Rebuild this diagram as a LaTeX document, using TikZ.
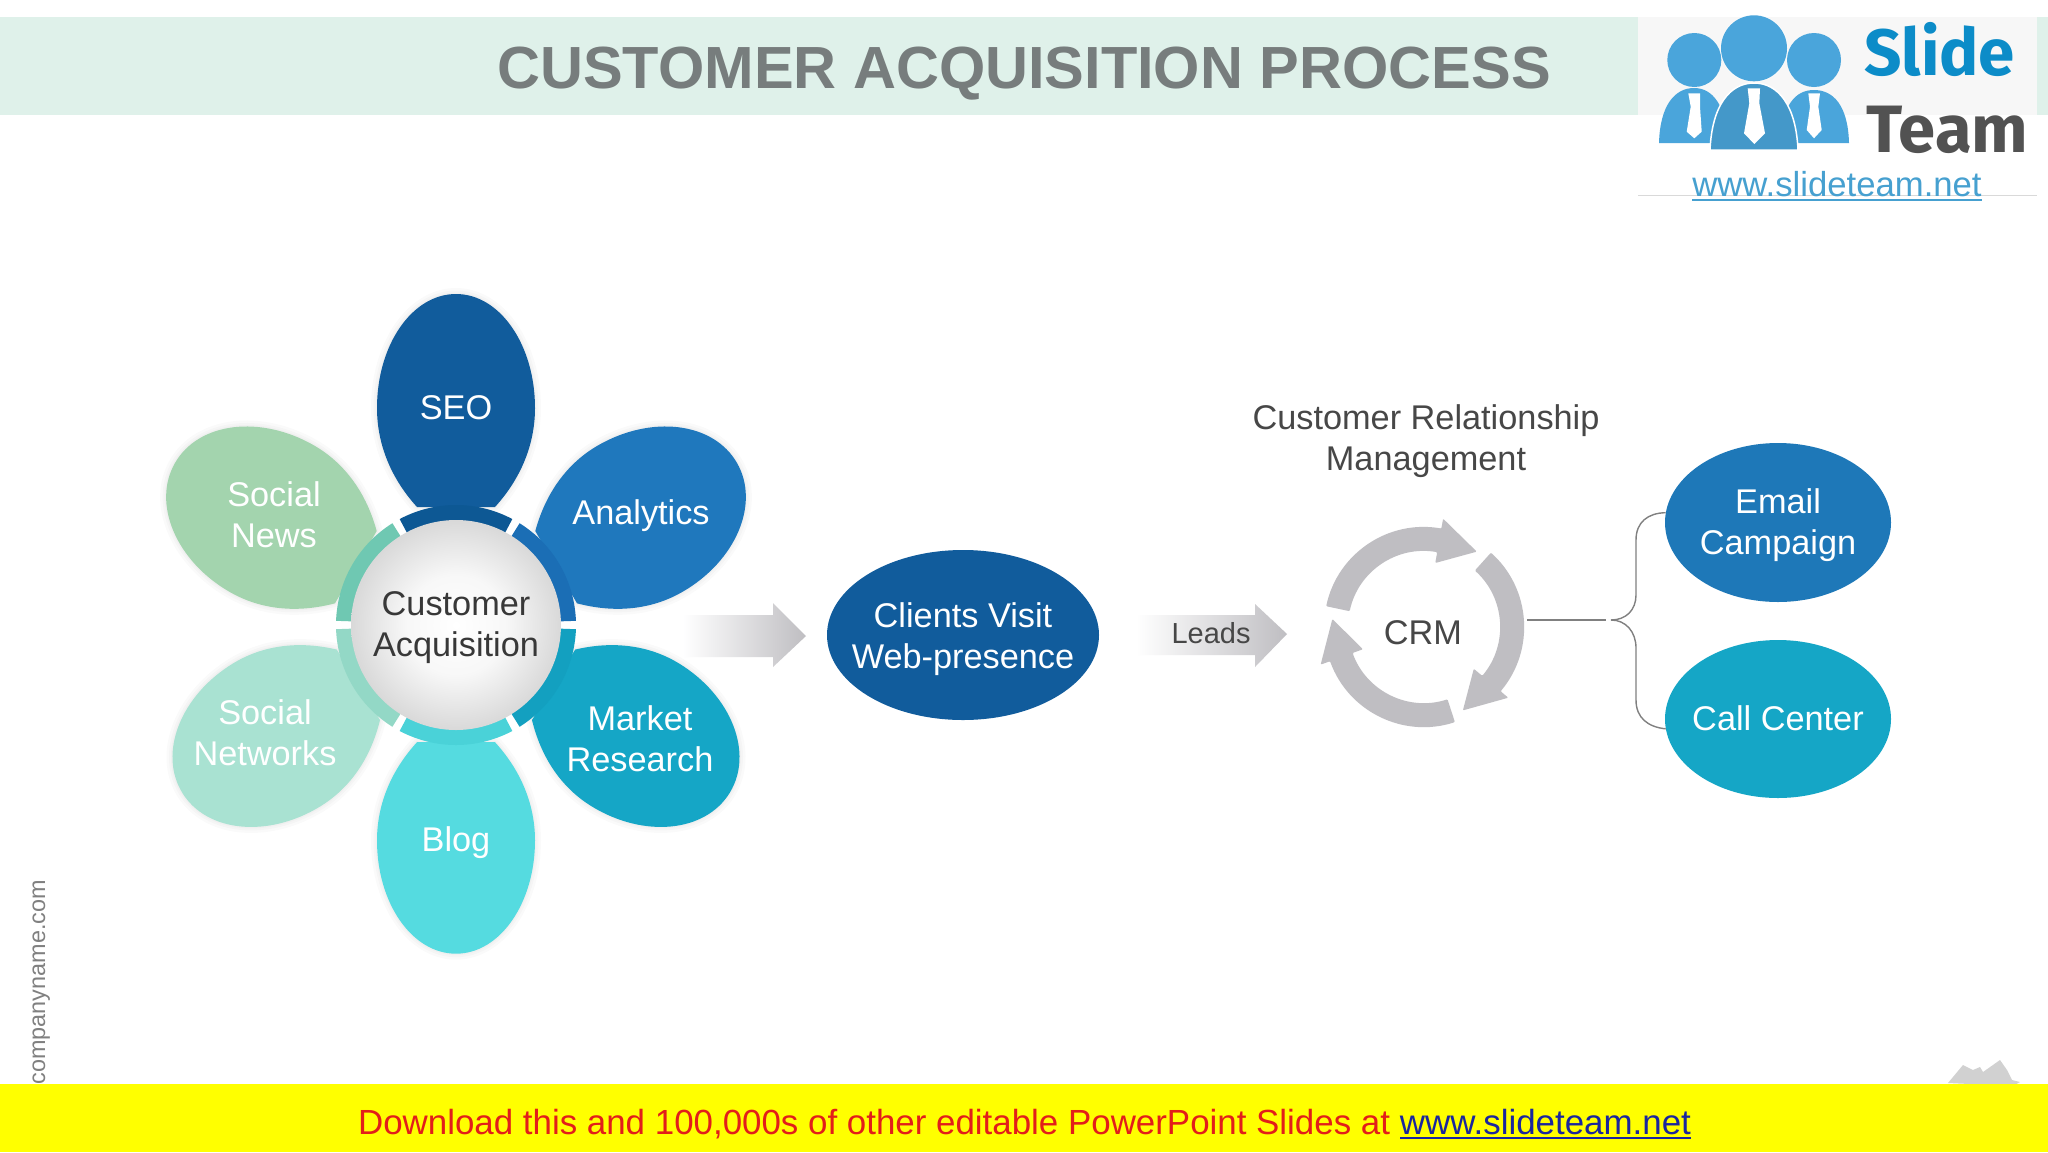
\documentclass[tikz,border=0pt]{standalone}
\usepackage{fontspec}
\setmainfont{Liberation Sans}
\newfontfamily\logofont{Fira Sans}[BoldFont={Fira Sans Bold}]
\usetikzlibrary{shapes.geometric}
\definecolor{band}{HTML}{DFF1EA}
\definecolor{titlegrey}{HTML}{777D7D}
\definecolor{arrowgrey}{HTML}{BFBEC2}
\definecolor{seoC}{HTML}{115C9C}
\definecolor{anaC}{HTML}{1F78BD}
\definecolor{mktC}{HTML}{15A6C6}
\definecolor{blogC}{HTML}{55DBE0}
\definecolor{netC}{HTML}{A9E2D2}
\definecolor{newsC}{HTML}{A3D4AE}
\definecolor{seoR}{HTML}{0D5894}
\definecolor{anaR}{HTML}{1B6EB5}
\definecolor{mktR}{HTML}{13A0C0}
\definecolor{blogR}{HTML}{4AD2D8}
\definecolor{netR}{HTML}{93D8C6}
\definecolor{newsR}{HTML}{6FC8B2}
\definecolor{logoblue}{HTML}{4AA5DB}
\definecolor{slideC}{HTML}{0C8CC8}
\definecolor{urlC}{HTML}{46A0D0}
\definecolor{emailC}{HTML}{1E78B8}
\definecolor{footC}{HTML}{E21E1A}
\definecolor{linkC}{HTML}{1A269E}
\definecolor{banner}{HTML}{FFFF00}
\pgfdeclareradialshading{hubshade}{\pgfpoint{0bp}{0bp}}{color(0bp)=(white); color(12bp)=(black!3); color(25bp)=(black!15); color(50bp)=(black!15)}
\newcommand{\petalshape}{(118,-39) .. controls (150,-68) and (185,-79) .. (217,-79) .. controls (280,-79) and (331,-44) .. (331,0) .. controls (331,44) and (280,79) .. (217,79) .. controls (185,79) and (150,68) .. (118,39) -- cycle}
% #1 rotation, #2 colour, #3 length factor, #4 width factor
\newcommand{\flowerpetal}[4]{%
  \begin{scope}[shift={(456,625)},y=1pt,rotate=#1,xscale=#3,yscale=#4]
    \foreach \w in {12,7,3} {\draw[black,opacity=.02,line width=\w pt,line join=round] \petalshape;}
    \fill[#2] \petalshape;
  \end{scope}
}
\newcommand{\flowerring}[2]{%
  \begin{scope}[shift={(456,625)},y=1pt,rotate=#1]
    \fill[#2] (-28:104) arc (-28:28:104) -- (28:120) arc (28:-28:120) -- cycle;
  \end{scope}
}
\newcommand{\cyclearrow}[1]{%
  \begin{scope}[shift={(1424,627)},y=1pt,rotate=#1]
    \fill[arrowgrey,rounded corners=1pt] (168:100) arc (168:80:100) -- (80:110) -- (55:92) -- (80:65) -- (80:76) arc (80:168:76) -- cycle;
  \end{scope}
}
\tikzset{
  lbl/.style={align=center,font=\fontsize{34.3}{41}\selectfont,text=white,inner sep=0pt},
  dark/.style={lbl,text=#1},
  oval/.style={ellipse,minimum width=#1,inner sep=0pt},
  fade/.style={left color=white,right color=arrowgrey,draw=none},
  brace/.style={draw=black!50,line width=1.4pt},
}
\begin{document}
\begin{tikzpicture}[x=1pt,y=-1pt]
\useasboundingbox (0,0) rectangle (2048,1152);
\fill[white] (0,0) rectangle (2048,1152);
% title band and logo backdrop
\fill[band] (0,17) rectangle (2048,115);
\fill[white] (1638,0) rectangle (2037,196);
\fill[black!3] (1638,17) rectangle (2037,115);
\draw[black!15,line width=1pt] (1638,195.5) -- (2037,195.5);
\node[inner sep=0pt,font=\fontsize{59.5}{60}\selectfont\bfseries,text=titlegrey] (title) at (1024,74) {CUSTOMER ACQUISITION PROCESS};
% logo
\fill[logoblue] (1694.3,60) circle (27);
\fill[logoblue] (1814,60) circle (27);
\fill[logoblue] (1659,143) .. controls (1660,105) and (1675,88) .. (1694,88) .. controls (1713,88) and (1725,105) .. (1730,143) -- cycle;
\fill[logoblue] (1778,143) .. controls (1783,105) and (1795,90) .. (1814,90) .. controls (1833,90) and (1848,105) .. (1849,143) -- cycle;
\fill[white,opacity=.35] (1754,48.3) circle (34);
\fill[logoblue] (1754,48.3) circle (33);
\draw[white,line width=1.5pt,fill=logoblue!92!black] (1710,150) .. controls (1712,105) and (1730,83) .. (1754,83) .. controls (1778,83) and (1796,105) .. (1798,150) -- cycle;
\fill[white] (1688.3,93.3) -- (1700,93.3) -- (1700,106.7) -- (1701.7,131.7) -- (1694.3,138.3) -- (1686.7,131.7) -- (1690.7,106.7) -- cycle;
\fill[white] (1747.7,88.3) -- (1760,88.3) -- (1759.3,103.3) -- (1765,133.3) -- (1754.3,144) -- (1744,133.3) -- (1749.3,103.3) -- cycle;
\fill[white] (1808.3,93.3) -- (1820,93.3) -- (1818.3,106.7) -- (1821.7,130) -- (1814,138.3) -- (1806.7,130) -- (1810,106.7) -- cycle;
\node[anchor=base west,inner sep=0pt,font=\logofont\bfseries\fontsize{65.5}{66}\selectfont,text=slideC] (slide) at (1864,75) {Slide};
\node[anchor=base west,inner sep=0pt,font=\logofont\bfseries\fontsize{67}{67}\selectfont,text=black!68] (team) at (1866,152) {Team};
\node[anchor=base,inner sep=0pt,font=\fontsize{34.7}{36}\selectfont,text=urlC] (url) at (1837,196) {www.slideteam.net};
\draw[urlC,line width=2.4pt] (1692,200) -- (1982,200);
% flower
\flowerpetal{90}{seoC}{1}{1}
\flowerpetal{30}{anaC}{.98}{1.07}
\flowerpetal{-31.5}{mktC}{.97}{1.06}
\flowerpetal{-90}{blogC}{.993}{1}
\flowerpetal{-148.5}{netC}{.97}{1.06}
\flowerpetal{150}{newsC}{.98}{1.07}
\flowerring{90}{seoR}
\flowerring{30}{anaR}
\flowerring{-30}{mktR}
\flowerring{-90}{blogR}
\flowerring{-150}{netR}
\flowerring{150}{newsR}
\shade[shading=hubshade] (456,625) circle (105);
\node[lbl] (seo) at (456,408) {SEO};
\node[lbl] (ana) at (641,516) {Analytics};
\node[lbl] (mkt) at (640,739) {Market\\Research};
\node[lbl] (blog) at (456,843) {Blog};
\node[lbl] (net) at (265,733) {Social\\Networks};
\node[lbl] (news) at (274,515) {Social\\News};
\node[dark=black!78] (hub) at (456,628) {Customer\\Acquisition};
% flow
\shade[fade] (683,615) -- (773,615) -- (773,603) -- (806,636) -- (773,667) -- (773,657) -- (683,657) -- cycle;
\node[oval=272pt,fill=seoC,minimum height=170pt] (clients) at (963,635) {};
\node[lbl] (clientst) at (963,639) {Clients Visit\\Web-presence};
\shade[fade] (1136,615) -- (1255,615) -- (1255,604) -- (1287,634) -- (1255,667) -- (1255,655) -- (1136,655) -- cycle;
\node[dark=black!72,font=\fontsize{29}{34}\selectfont] (leads) at (1211,633) {Leads};
% CRM
\cyclearrow{0}
\cyclearrow{-120}
\cyclearrow{-240}
\node[dark=black!72] (crm) at (1423,633) {CRM};
\node[dark=black!72] (crmt) at (1426,441) {Customer Relationship\\Management};
% outputs
\node[oval=226pt,fill=emailC,minimum height=159pt] (email) at (1778,522.5) {};
\node[oval=226pt,fill=mktC,minimum height=158pt] (call) at (1778,719) {};
\node[lbl] (emailt) at (1778,525) {Email\\Campaign};
\node[lbl] (callt) at (1778,718) {Call Center};
\coordinate (crmout) at (1527,620);
\coordinate (braceline) at (1606,620);
\coordinate (bracetip) at (1611,620);
\draw[brace] (crmout) -- (braceline);
\draw[brace] (bracetip) .. controls (1626,620) and (1636,610) .. (1636,595) -- (1636,540) .. controls (1636,522) and (1648,513) .. (email.175);
\draw[brace] (bracetip) .. controls (1626,620) and (1636,632) .. (1636,648) -- (1636,700) .. controls (1636,718) and (1648,727) .. (call.185);
% side text and watermark
\node[rotate=90,anchor=base east,inner sep=0pt,font=\fontsize{23.4}{24}\selectfont,text=black!50] (web) at (45,880) {www.companyname.com};
\fill[black!18] (1948,1083) -- (1963,1065) -- (1973,1070) -- (1980,1067) -- (1983,1072) -- (2000,1060) -- (2007,1070) -- (2012,1080) -- (2020,1082) -- (2013,1086) -- cycle;
% footer
\fill[banner] (0,1084) rectangle (2048,1152);
\node[inner sep=0pt,font=\fontsize{34.9}{36}\selectfont,text=footC] (foot) at (1024.5,1124) {Download this and 100,000s of other editable PowerPoint Slides at \textcolor{linkC}{www.slideteam.net}};
\draw[linkC,line width=2pt] (1400,1138) -- (1691,1138);
\end{tikzpicture}
\end{document}
